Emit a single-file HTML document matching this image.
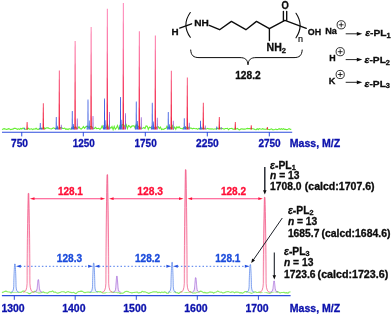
<!DOCTYPE html>
<html><head><meta charset="utf-8"><title>MS</title><style>html,body{margin:0;padding:0;background:#fff}</style></head><body>
<svg width="392" height="315" viewBox="0 0 392 315" style="display:block" font-family="'Liberation Sans', Arial, Helvetica, sans-serif" font-weight="bold">
<rect width="392" height="315" fill="#fff"/>
<defs><linearGradient id="pf" x1="0" y1="0" x2="0" y2="1"><stop offset="0" stop-color="#f888ae"/><stop offset="0.35" stop-color="#fcc4d6"/><stop offset="0.7" stop-color="#feeaf0"/><stop offset="1" stop-color="#ffffff"/></linearGradient><linearGradient id="rg" x1="0" y1="0" x2="0" y2="129" gradientUnits="userSpaceOnUse"><stop offset="0" stop-color="#ff5aa0"/><stop offset="0.4" stop-color="#fb4080"/><stop offset="0.7" stop-color="#f41844"/><stop offset="1" stop-color="#f00828"/></linearGradient></defs>
<polyline points="2.0,129.62 3.1,129.05 4.2,128.63 5.3,129.00 6.4,129.42 7.5,129.15 8.6,128.65 9.7,129.11 10.8,129.64 11.9,129.28 13.0,129.17 14.1,128.30 15.2,128.35 16.3,128.81 17.4,129.32 18.5,128.78 19.6,129.33 20.7,128.47 21.8,129.03 22.9,128.04 24.0,128.23 25.1,129.28 26.2,129.28 27.3,129.20 28.4,128.29 29.5,129.17 30.6,128.99 31.7,128.84 32.8,129.66 33.9,128.82 35.0,129.16 36.1,128.25 37.2,129.22 38.3,129.36 39.4,128.55 40.5,128.46 41.6,128.77 42.7,128.35 43.8,127.34 44.9,128.88 46.0,128.08 47.1,127.85 48.2,127.89 49.3,128.39 50.4,128.84 51.5,129.03 52.6,128.33 53.7,127.80 54.8,128.53 55.9,128.83 57.0,127.83 58.1,128.02 59.2,128.12 60.3,127.68 61.4,127.44 62.5,128.41 63.6,128.51 64.7,128.06 65.8,129.32 66.9,128.90 68.0,129.56 69.1,128.60 70.2,129.18 71.3,128.69 72.4,128.60 73.5,126.59 74.6,127.76 75.7,127.00 76.8,128.68 77.9,128.30 79.0,126.74 80.1,128.54 81.2,129.16 82.3,128.25 83.4,126.62 84.5,128.34 85.6,127.03 86.7,126.37 87.8,126.58 88.9,127.66 90.0,126.46 91.1,126.41 92.2,127.31 93.3,128.65 94.4,128.47 95.5,127.34 96.6,128.65 97.7,128.50 98.8,128.33 99.9,129.33 101.0,128.41 102.1,125.83 103.2,128.32 104.3,128.19 105.4,127.58 106.5,127.36 107.6,124.49 108.7,128.61 109.8,127.30 110.9,128.22 112.0,126.47 113.1,129.64 114.2,126.35 115.3,129.21 116.4,128.00 117.5,125.60 118.6,129.06 119.7,127.39 120.8,128.55 121.9,124.88 123.0,124.60 124.1,125.07 125.2,127.81 126.3,124.93 127.4,128.59 128.5,125.61 129.6,126.21 130.7,127.58 131.8,126.12 132.9,125.90 134.0,125.78 135.1,128.08 136.2,124.54 137.3,125.89 138.4,126.18 139.5,127.89 140.6,128.23 141.7,128.28 142.8,128.24 143.9,127.56 145.0,128.58 146.1,125.87 147.2,126.10 148.3,129.26 149.4,127.13 150.5,127.54 151.6,128.15 152.7,128.50 153.8,127.86 154.9,128.07 156.0,128.18 157.1,127.09 158.2,126.75 159.3,128.57 160.4,127.08 161.5,129.59 162.6,129.05 163.7,129.35 164.8,128.49 165.9,128.45 167.0,126.26 168.1,128.14 169.2,127.50 170.3,127.41 171.4,128.59 172.5,125.89 173.6,128.91 174.7,127.04 175.8,129.16 176.9,126.74 178.0,127.94 179.1,126.60 180.2,128.28 181.3,128.57 182.4,128.81 183.5,127.70 184.6,127.34 185.7,128.26 186.8,127.50 187.9,128.54 189.0,127.10 190.1,128.16 191.2,128.10 192.3,128.96 193.4,128.34 194.5,128.58 195.6,128.79 196.7,128.48 197.8,129.33 198.9,128.30 200.0,128.47 201.1,128.90 202.2,128.55 203.3,128.22 204.4,128.32 205.5,128.73 206.6,128.99 207.7,128.32 208.8,128.93 209.9,128.82 211.0,129.10 212.1,128.73 213.2,129.18 214.3,128.97 215.4,129.00 216.5,128.89 217.6,128.17 218.7,128.75 219.8,127.78 220.9,128.91 222.0,128.37 223.1,128.66 224.2,129.16 225.3,128.48 226.4,128.54 227.5,128.44 228.6,129.77 229.7,128.51 230.8,128.52 231.9,128.26 233.0,129.22 234.1,129.12 235.2,129.10 236.3,129.00 237.4,128.38 238.5,129.43 239.6,129.78 240.7,128.95 241.8,128.77 242.9,129.08 244.0,129.06 245.1,129.12 246.2,128.77 247.3,128.36 248.4,128.60 249.5,128.52 250.6,128.76 251.7,128.68 252.8,128.80 253.9,129.06 255.0,129.44 256.1,129.69 257.2,128.78 258.3,129.48 259.4,128.52 260.5,128.98 261.6,129.28 262.7,128.72 263.8,129.14 264.9,129.22 266.0,129.27 267.1,128.82 268.2,129.29 269.3,129.73 270.4,129.33 271.5,128.83 272.6,129.74 273.7,129.74 274.8,129.52 275.9,129.06 277.0,129.65 278.1,129.26 279.2,128.67 280.3,129.38 281.4,128.68 282.5,129.44 283.6,128.70 284.7,129.38 285.8,129.22 286.9,129.64 288.0,129.20 289.1,128.60 290.2,129.36 291.3,129.18" fill="none" stroke="#64ee30" stroke-width="1.1" stroke-linejoin="miter"/>
<path d="M23.73,129.50 L23.90,127.75 L24.70,127.75 L24.87,129.50 Z" fill="#3a5ce2"/>
<path d="M39.68,129.50 L39.85,123.00 L40.65,123.00 L40.82,129.50 Z" fill="#3a5ce2"/>
<path d="M40.95,129.50 L41.25,127.48 L41.85,127.48 L42.15,129.50 Z" fill="#3a5ce2"/>
<path d="M38.87,129.50 L39.11,128.50 L39.59,128.50 L39.83,129.50 Z" fill="#3a5ce2"/>
<path d="M42.33,129.50 L42.54,128.76 L42.96,128.76 L43.17,129.50 Z" fill="#3a5ce2"/>
<path d="M55.68,129.50 L55.85,117.00 L56.65,117.00 L56.82,129.50 Z" fill="#3a5ce2"/>
<path d="M56.95,129.50 L57.25,125.68 L57.85,125.68 L58.15,129.50 Z" fill="#3a5ce2"/>
<path d="M54.87,129.50 L55.11,127.66 L55.59,127.66 L55.83,129.50 Z" fill="#3a5ce2"/>
<path d="M58.33,129.50 L58.54,128.16 L58.96,128.16 L59.17,129.50 Z" fill="#3a5ce2"/>
<path d="M71.68,129.50 L71.85,111.00 L72.65,111.00 L72.82,129.50 Z" fill="#3a5ce2"/>
<path d="M72.95,129.50 L73.25,123.88 L73.85,123.88 L74.15,129.50 Z" fill="#3a5ce2"/>
<path d="M70.87,129.50 L71.11,126.82 L71.59,126.82 L71.83,129.50 Z" fill="#3a5ce2"/>
<path d="M74.33,129.50 L74.54,127.56 L74.96,127.56 L75.17,129.50 Z" fill="#3a5ce2"/>
<path d="M87.43,129.50 L87.60,99.50 L88.40,99.50 L88.57,129.50 Z" fill="#3a5ce2"/>
<path d="M88.70,129.50 L89.00,120.43 L89.60,120.43 L89.90,129.50 Z" fill="#3a5ce2"/>
<path d="M86.62,129.50 L86.86,125.21 L87.34,125.21 L87.58,129.50 Z" fill="#3a5ce2"/>
<path d="M90.08,129.50 L90.29,126.41 L90.71,126.41 L90.92,129.50 Z" fill="#3a5ce2"/>
<path d="M103.93,129.50 L104.10,98.50 L104.90,98.50 L105.07,129.50 Z" fill="#3a5ce2"/>
<path d="M105.20,129.50 L105.50,120.13 L106.10,120.13 L106.40,129.50 Z" fill="#3a5ce2"/>
<path d="M103.12,129.50 L103.36,125.07 L103.84,125.07 L104.08,129.50 Z" fill="#3a5ce2"/>
<path d="M106.58,129.50 L106.79,126.31 L107.21,126.31 L107.42,129.50 Z" fill="#3a5ce2"/>
<path d="M119.93,129.50 L120.10,97.00 L120.90,97.00 L121.07,129.50 Z" fill="#3a5ce2"/>
<path d="M121.20,129.50 L121.50,119.68 L122.10,119.68 L122.40,129.50 Z" fill="#3a5ce2"/>
<path d="M119.12,129.50 L119.36,124.86 L119.84,124.86 L120.08,129.50 Z" fill="#3a5ce2"/>
<path d="M122.58,129.50 L122.79,126.16 L123.21,126.16 L123.42,129.50 Z" fill="#3a5ce2"/>
<path d="M135.68,129.50 L135.85,101.50 L136.65,101.50 L136.82,129.50 Z" fill="#3a5ce2"/>
<path d="M136.95,129.50 L137.25,121.03 L137.85,121.03 L138.15,129.50 Z" fill="#3a5ce2"/>
<path d="M134.87,129.50 L135.11,125.49 L135.59,125.49 L135.83,129.50 Z" fill="#3a5ce2"/>
<path d="M138.33,129.50 L138.54,126.61 L138.96,126.61 L139.17,129.50 Z" fill="#3a5ce2"/>
<path d="M151.68,129.50 L151.85,102.75 L152.65,102.75 L152.82,129.50 Z" fill="#3a5ce2"/>
<path d="M152.95,129.50 L153.25,121.41 L153.85,121.41 L154.15,129.50 Z" fill="#3a5ce2"/>
<path d="M150.87,129.50 L151.11,125.67 L151.59,125.67 L151.83,129.50 Z" fill="#3a5ce2"/>
<path d="M154.33,129.50 L154.54,126.73 L154.96,126.73 L155.17,129.50 Z" fill="#3a5ce2"/>
<path d="M167.68,129.50 L167.85,112.00 L168.65,112.00 L168.82,129.50 Z" fill="#3a5ce2"/>
<path d="M168.95,129.50 L169.25,124.18 L169.85,124.18 L170.15,129.50 Z" fill="#3a5ce2"/>
<path d="M166.87,129.50 L167.11,126.96 L167.59,126.96 L167.83,129.50 Z" fill="#3a5ce2"/>
<path d="M170.33,129.50 L170.54,127.66 L170.96,127.66 L171.17,129.50 Z" fill="#3a5ce2"/>
<path d="M183.68,129.50 L183.85,118.25 L184.65,118.25 L184.82,129.50 Z" fill="#3a5ce2"/>
<path d="M184.95,129.50 L185.25,126.06 L185.85,126.06 L186.15,129.50 Z" fill="#3a5ce2"/>
<path d="M182.87,129.50 L183.11,127.84 L183.59,127.84 L183.83,129.50 Z" fill="#3a5ce2"/>
<path d="M186.33,129.50 L186.54,128.28 L186.96,128.28 L187.17,129.50 Z" fill="#3a5ce2"/>
<path d="M199.93,129.50 L200.10,120.75 L200.90,120.75 L201.07,129.50 Z" fill="#3a5ce2"/>
<path d="M201.20,129.50 L201.50,126.81 L202.10,126.81 L202.40,129.50 Z" fill="#3a5ce2"/>
<path d="M199.12,129.50 L199.36,128.19 L199.84,128.19 L200.08,129.50 Z" fill="#3a5ce2"/>
<path d="M202.58,129.50 L202.79,128.53 L203.21,128.53 L203.42,129.50 Z" fill="#3a5ce2"/>
<path d="M216.18,129.50 L216.35,126.50 L217.15,126.50 L217.32,129.50 Z" fill="#3a5ce2"/>
<path d="M60.68,129.50 L60.87,124.75 L61.63,124.75 L61.82,129.50 Z" fill="#9458d0"/>
<path d="M76.68,129.50 L76.87,118.50 L77.63,118.50 L77.82,129.50 Z" fill="#9458d0"/>
<path d="M92.43,129.50 L92.62,116.00 L93.38,116.00 L93.57,129.50 Z" fill="#9458d0"/>
<path d="M108.93,129.50 L109.12,112.00 L109.88,112.00 L110.07,129.50 Z" fill="#9458d0"/>
<path d="M124.93,129.50 L125.12,113.25 L125.88,113.25 L126.07,129.50 Z" fill="#9458d0"/>
<path d="M140.68,129.50 L140.87,117.25 L141.63,117.25 L141.82,129.50 Z" fill="#9458d0"/>
<path d="M156.68,129.50 L156.87,117.75 L157.63,117.75 L157.82,129.50 Z" fill="#9458d0"/>
<path d="M172.68,129.50 L172.87,120.75 L173.63,120.75 L173.82,129.50 Z" fill="#9458d0"/>
<path d="M188.68,129.50 L188.87,122.75 L189.63,122.75 L189.82,129.50 Z" fill="#9458d0"/>
<path d="M204.68,129.50 L204.87,125.50 L205.63,125.50 L205.82,129.50 Z" fill="#9458d0"/>
<path d="M220.68,129.50 L220.87,127.00 L221.63,127.00 L221.82,129.50 Z" fill="#9458d0"/>
<path d="M26.44,129.50 L26.74,122.00 L27.46,122.00 L27.76,129.50 Z" fill="url(#rg)"/>
<path d="M42.59,129.50 L42.89,103.25 L43.61,103.25 L43.91,129.50 Z" fill="url(#rg)"/>
<path d="M44.19,129.50 L44.37,128.48 L44.73,128.48 L44.91,129.50 Z" fill="#f41c44"/>
<path d="M58.59,129.50 L58.89,70.50 L59.61,70.50 L59.91,129.50 Z" fill="url(#rg)"/>
<path d="M60.19,129.50 L60.37,127.34 L60.73,127.34 L60.91,129.50 Z" fill="#f41c44"/>
<path d="M74.44,129.50 L74.74,41.00 L75.46,41.00 L75.76,129.50 Z" fill="url(#rg)"/>
<path d="M76.04,129.50 L76.22,126.40 L76.58,126.40 L76.76,129.50 Z" fill="#f41c44"/>
<path d="M90.44,129.50 L90.74,27.00 L91.46,27.00 L91.76,129.50 Z" fill="url(#rg)"/>
<path d="M92.04,129.50 L92.22,126.40 L92.58,126.40 L92.76,129.50 Z" fill="#f41c44"/>
<path d="M106.59,129.50 L106.89,8.75 L107.61,8.75 L107.91,129.50 Z" fill="url(#rg)"/>
<path d="M108.19,129.50 L108.37,126.40 L108.73,126.40 L108.91,129.50 Z" fill="#f41c44"/>
<path d="M122.59,129.50 L122.89,3.00 L123.61,3.00 L123.91,129.50 Z" fill="url(#rg)"/>
<path d="M124.19,129.50 L124.37,126.40 L124.73,126.40 L124.91,129.50 Z" fill="#f41c44"/>
<path d="M138.59,129.50 L138.89,31.25 L139.61,31.25 L139.91,129.50 Z" fill="url(#rg)"/>
<path d="M140.19,129.50 L140.37,126.40 L140.73,126.40 L140.91,129.50 Z" fill="#f41c44"/>
<path d="M154.59,129.50 L154.89,35.50 L155.61,35.50 L155.91,129.50 Z" fill="url(#rg)"/>
<path d="M156.19,129.50 L156.37,126.40 L156.73,126.40 L156.91,129.50 Z" fill="#f41c44"/>
<path d="M170.59,129.50 L170.89,70.75 L171.61,70.75 L171.91,129.50 Z" fill="url(#rg)"/>
<path d="M172.19,129.50 L172.37,127.35 L172.73,127.35 L172.91,129.50 Z" fill="#f41c44"/>
<path d="M186.59,129.50 L186.89,77.50 L187.61,77.50 L187.91,129.50 Z" fill="url(#rg)"/>
<path d="M188.19,129.50 L188.37,127.58 L188.73,127.58 L188.91,129.50 Z" fill="#f41c44"/>
<path d="M202.59,129.50 L202.89,102.75 L203.61,102.75 L203.91,129.50 Z" fill="url(#rg)"/>
<path d="M204.19,129.50 L204.37,128.47 L204.73,128.47 L204.91,129.50 Z" fill="#f41c44"/>
<path d="M218.59,129.50 L218.89,117.00 L219.61,117.00 L219.91,129.50 Z" fill="url(#rg)"/>
<path d="M234.59,129.50 L234.89,122.00 L235.61,122.00 L235.91,129.50 Z" fill="url(#rg)"/>
<path d="M250.54,129.50 L250.84,125.25 L251.56,125.25 L251.86,129.50 Z" fill="url(#rg)"/>
<path d="M266.64,129.50 L266.94,127.00 L267.66,127.00 L267.96,129.50 Z" fill="url(#rg)"/>
<line x1="2" y1="132.3" x2="292.2" y2="132.3" stroke="#2e4cde" stroke-width="1.05"/>
<line x1="21.75" y1="132" x2="21.75" y2="136.4" stroke="#2e4cde" stroke-width="1"/>
<text x="11.0" y="147.4" font-size="10.5" fill="#0c12ac" stroke="#0c12ac" stroke-width="0.3" textLength="17.0" lengthAdjust="spacingAndGlyphs">750</text>
<line x1="83.3" y1="132" x2="83.3" y2="136.4" stroke="#2e4cde" stroke-width="1"/>
<text x="72.75" y="147.4" font-size="10.5" fill="#0c12ac" stroke="#0c12ac" stroke-width="0.3" textLength="22.0" lengthAdjust="spacingAndGlyphs">1250</text>
<line x1="145.3" y1="132" x2="145.3" y2="136.4" stroke="#2e4cde" stroke-width="1"/>
<text x="134.5" y="147.4" font-size="10.5" fill="#0c12ac" stroke="#0c12ac" stroke-width="0.3" textLength="22.2" lengthAdjust="spacingAndGlyphs">1750</text>
<line x1="207.3" y1="132" x2="207.3" y2="136.4" stroke="#2e4cde" stroke-width="1"/>
<text x="196.1" y="147.4" font-size="10.5" fill="#0c12ac" stroke="#0c12ac" stroke-width="0.3" textLength="22.7" lengthAdjust="spacingAndGlyphs">2250</text>
<line x1="269.3" y1="132" x2="269.3" y2="136.4" stroke="#2e4cde" stroke-width="1"/>
<text x="258.4" y="147.4" font-size="10.5" fill="#0c12ac" stroke="#0c12ac" stroke-width="0.3" textLength="22.3" lengthAdjust="spacingAndGlyphs">2750</text>
<text x="289.8" y="147.2" font-size="10.5" fill="#0c12ac" stroke="#0c12ac" stroke-width="0.3" textLength="50.4" lengthAdjust="spacingAndGlyphs">Mass, M/Z</text>
<g stroke="#0c0c0c" stroke-width="1.35" fill="none" stroke-linecap="round" stroke-linejoin="round">
<path d="M179.7,28.1 L191.6,23.8"/>
<path d="M190.3,12.5 Q181.5,25 190.3,37.3" stroke-width="1.1"/>
<path d="M209.3,25.4 L219.6,29.7 L231.4,21.4 L245.9,29.7 L256.5,21.4 L269.4,28.7 L284.9,20.4 L306.3,28.3"/>
<path d="M269.4,28.7 L269.4,40.6"/>
<path d="M283.4,20.6 L283.4,11.3 M286.7,20.2 L286.7,11.3"/>
<path d="M296,13.3 Q304.3,25.5 296,37.8" stroke-width="1.1"/>
<path d="M190.7,50 C191,55.5 193.5,57.6 199,57.6 L240,57.6 C245,57.6 247.6,59.5 248,64.8 C248.4,59.5 251,57.6 256,57.6 L294,57.6 C299.5,57.6 301.8,55.5 302.2,50" stroke-width="1"/>
</g>
<text x="171.6" y="34.8" font-size="9.5" fill="#0c0c0c" stroke="#0c0c0c" stroke-width="0.3" textLength="7.1" lengthAdjust="spacingAndGlyphs">H</text>
<text x="194.3" y="25.9" font-size="9.7" fill="#0c0c0c" stroke="#0c0c0c" stroke-width="0.3" textLength="14.6" lengthAdjust="spacingAndGlyphs">NH</text>
<text x="281.5" y="9.4" font-size="10.1" fill="#0c0c0c" stroke="#0c0c0c" stroke-width="0.3" textLength="7.3" lengthAdjust="spacingAndGlyphs">O</text>
<text x="266.6" y="51.2" font-size="10.2" fill="#0c0c0c" stroke="#0c0c0c" stroke-width="0.3" textLength="19.4" lengthAdjust="spacingAndGlyphs">NH<tspan font-size="7.3" dy="1.8">2</tspan></text>
<text x="297.9" y="41.9" font-size="9" fill="#0c0c0c" stroke="#0c0c0c" stroke-width="0.2" font-weight="normal">n</text>
<text x="307.7" y="34.9" font-size="9.8" fill="#0c0c0c" stroke="#0c0c0c" stroke-width="0.3" textLength="13.4" lengthAdjust="spacingAndGlyphs">OH</text>
<text x="235.2" y="78.9" font-size="10.0" fill="#0c0c0c" stroke="#0c0c0c" stroke-width="0.3" textLength="25.5" lengthAdjust="spacingAndGlyphs">128.2</text>
<text x="325.2" y="34.4" font-size="9.8" fill="#0c0c0c" stroke="#0c0c0c" stroke-width="0.3" textLength="11.7" lengthAdjust="spacingAndGlyphs">Na</text>
<text x="329.2" y="61.4" font-size="9.8" fill="#0c0c0c" stroke="#0c0c0c" stroke-width="0.3" textLength="6.4" lengthAdjust="spacingAndGlyphs">H</text>
<text x="328.8" y="84.1" font-size="9.8" fill="#0c0c0c" stroke="#0c0c0c" stroke-width="0.3" textLength="6.6" lengthAdjust="spacingAndGlyphs">K</text>
<g stroke="#0c0c0c" stroke-width="0.85" fill="none"><circle cx="341.2" cy="24.8" r="4.1"/><path d="M338.8,24.8 H343.59999999999997 M341.2,22.400000000000002 V27.2"/></g>
<g stroke="#0c0c0c" stroke-width="0.85" fill="none"><circle cx="340.2" cy="51.7" r="4.1"/><path d="M337.8,51.7 H342.59999999999997 M340.2,49.300000000000004 V54.1"/></g>
<g stroke="#0c0c0c" stroke-width="0.85" fill="none"><circle cx="340.2" cy="74.5" r="4.1"/><path d="M337.8,74.5 H342.59999999999997 M340.2,72.1 V76.9"/></g>
<line x1="345.7" y1="33.8" x2="358" y2="33.8" stroke="#0c0c0c" stroke-width="0.9"/>
<path d="M362.3,33.8 L356.8,31.9 L356.8,35.699999999999996 Z" fill="#0c0c0c"/>
<line x1="345.7" y1="59.6" x2="358" y2="59.6" stroke="#0c0c0c" stroke-width="0.9"/>
<path d="M362.3,59.6 L356.8,57.7 L356.8,61.5 Z" fill="#0c0c0c"/>
<line x1="345.7" y1="82.3" x2="358" y2="82.3" stroke="#0c0c0c" stroke-width="0.9"/>
<path d="M362.3,82.3 L356.8,80.39999999999999 L356.8,84.2 Z" fill="#0c0c0c"/>
<text x="365.2" y="36.1" font-size="9.9" fill="#0c0c0c" stroke="#0c0c0c" stroke-width="0.3" textLength="25.4" lengthAdjust="spacingAndGlyphs"><tspan font-style="italic">ε</tspan>-PL<tspan font-size="7.2" dy="1.6">1</tspan></text>
<text x="364.6" y="62.9" font-size="9.9" fill="#0c0c0c" stroke="#0c0c0c" stroke-width="0.3" textLength="25.4" lengthAdjust="spacingAndGlyphs"><tspan font-style="italic">ε</tspan>-PL<tspan font-size="7.2" dy="1.6">2</tspan></text>
<text x="364.6" y="86.6" font-size="9.9" fill="#0c0c0c" stroke="#0c0c0c" stroke-width="0.3" textLength="25.4" lengthAdjust="spacingAndGlyphs"><tspan font-style="italic">ε</tspan>-PL<tspan font-size="7.2" dy="1.6">3</tspan></text>
<polyline points="1.9,292.61 3.2,292.15 4.5,291.44 5.8,291.13 7.1,291.62 8.4,291.96 9.7,292.01 11.0,293.03 12.3,292.31 13.6,292.08 14.9,292.19 16.2,292.19 17.5,292.25 18.8,292.22 20.1,292.31 21.4,292.26 22.7,291.12 24.0,291.13 25.3,291.63 26.6,292.19 27.9,292.84 29.2,293.80 30.5,293.21 31.8,292.01 33.1,292.26 34.4,291.41 35.7,291.24 37.0,292.49 38.3,292.81 39.6,292.90 40.9,292.79 42.2,292.24 43.5,291.90 44.8,292.71 46.1,292.75 47.4,293.29 48.7,292.33 50.0,291.51 51.3,291.73 52.6,290.92 53.9,292.24 55.2,291.94 56.5,292.73 57.8,293.14 59.1,292.68 60.4,292.33 61.7,291.72 63.0,291.73 64.3,291.86 65.6,292.70 66.9,292.00 68.2,291.47 69.5,292.20 70.8,292.40 72.1,292.74 73.4,292.32 74.7,292.97 76.0,293.71 77.3,292.38 78.6,291.59 79.9,291.36 81.2,291.10 82.5,291.36 83.8,292.38 85.1,292.65 86.4,292.28 87.7,291.97 89.0,292.17 90.3,292.48 91.6,292.16 92.9,292.28 94.2,292.26 95.5,292.04 96.8,291.60 98.1,291.69 99.4,291.82 100.7,291.69 102.0,292.64 103.3,292.98 104.6,292.87 105.9,292.59 107.2,291.92 108.5,291.81 109.8,292.31 111.1,291.67 112.4,292.25 113.7,292.42 115.0,292.12 116.3,292.20 117.6,292.76 118.9,292.52 120.2,293.59 121.5,292.97 122.8,293.27 124.1,292.46 125.4,291.51 126.7,291.44 128.0,291.60 129.3,292.29 130.6,292.54 131.9,292.82 133.2,292.50 134.5,292.44 135.8,292.20 137.1,292.00 138.4,292.95 139.7,292.66 141.0,292.53 142.3,291.27 143.6,291.90 144.9,291.78 146.2,292.34 147.5,292.72 148.8,293.48 150.1,292.66 151.4,292.47 152.7,291.91 154.0,291.70 155.3,291.86 156.6,291.70 157.9,292.67 159.2,292.16 160.5,292.69 161.8,291.97 163.1,292.55 164.4,291.92 165.7,292.30 167.0,293.30 168.3,293.19 169.6,291.73 170.9,292.12 172.2,291.01 173.5,291.81 174.8,291.65 176.1,292.74 177.4,292.69 178.7,293.44 180.0,292.38 181.3,291.72 182.6,291.80 183.9,291.65 185.2,292.16 186.5,292.42 187.8,292.28 189.1,292.09 190.4,291.66 191.7,292.42 193.0,293.05 194.3,292.70 195.6,292.96 196.9,292.35 198.2,292.09 199.5,291.54 200.8,291.15 202.1,291.70 203.4,292.65 204.7,292.39 206.0,292.89 207.3,292.85 208.6,292.60 209.9,291.93 211.2,292.19 212.5,292.32 213.8,293.14 215.1,292.26 216.4,291.95 217.7,291.08 219.0,291.77 220.3,292.24 221.6,292.19 222.9,292.94 224.2,292.63 225.5,292.17 226.8,291.80 228.1,291.48 229.4,292.05 230.7,292.50 232.0,291.88 233.3,292.03 234.6,292.80 235.9,292.06 237.2,291.99 238.5,292.30 239.8,292.90 241.1,292.64 242.4,293.27 243.7,292.58 245.0,291.53 246.3,291.69 247.6,291.93 248.9,292.44 250.2,292.66 251.5,293.31 252.8,292.76 254.1,292.11 255.4,291.80 256.7,292.55 258.0,292.40 259.3,292.15 260.6,292.63 261.9,292.40 263.2,291.32 264.5,291.85 265.8,292.13 267.1,292.60 268.4,292.96 269.7,293.32 271.0,292.79 272.3,292.28 273.6,292.02 274.9,291.44 276.2,292.13 277.5,291.61 278.8,292.30 280.1,293.06 281.4,292.53 282.7,292.51 284.0,292.35 285.3,292.93 286.6,292.62 287.9,293.21 289.2,291.98 290.5,291.93" fill="none" stroke="#8cee66" stroke-width="1.15" stroke-linejoin="round"/>
<path d="M10.95,292.30 Q13.45,292.30 13.75,286.30 L13.77,284.44 L13.80,282.58 L13.84,280.73 L13.90,278.87 L13.96,277.01 L14.03,275.15 L14.11,273.29 L14.19,271.43 L14.29,269.57 L14.38,267.72 L14.49,265.86 L14.60,264.00 L15.20,264.00 L15.31,265.86 L15.42,267.72 L15.51,269.57 L15.61,271.43 L15.69,273.29 L15.77,275.15 L15.84,277.01 L15.90,278.87 L15.96,280.73 L16.00,282.58 L16.03,284.44 L16.05,286.30 Q16.35,292.30 18.85,292.30" fill="#eef4fe" stroke="#5a86ea" stroke-width="0.75" stroke-linejoin="round"/>
<path d="M89.75,292.30 Q92.25,292.30 92.55,286.30 L92.57,284.38 L92.60,282.45 L92.64,280.52 L92.70,278.60 L92.76,276.68 L92.83,274.75 L92.91,272.82 L92.99,270.90 L93.09,268.98 L93.18,267.05 L93.29,265.12 L93.40,263.20 L94.00,263.20 L94.11,265.12 L94.22,267.05 L94.31,268.98 L94.41,270.90 L94.49,272.82 L94.57,274.75 L94.64,276.68 L94.70,278.60 L94.76,280.52 L94.80,282.45 L94.83,284.38 L94.85,286.30 Q95.15,292.30 97.65,292.30" fill="#eef4fe" stroke="#5a86ea" stroke-width="0.75" stroke-linejoin="round"/>
<path d="M168.15,292.30 Q170.65,292.30 170.95,286.30 L170.97,284.31 L171.00,282.32 L171.04,280.32 L171.10,278.33 L171.16,276.34 L171.23,274.35 L171.31,272.36 L171.39,270.37 L171.49,268.38 L171.58,266.38 L171.69,264.39 L171.80,262.40 L172.40,262.40 L172.51,264.39 L172.62,266.38 L172.71,268.38 L172.81,270.37 L172.89,272.36 L172.97,274.35 L173.04,276.34 L173.10,278.33 L173.16,280.32 L173.20,282.32 L173.23,284.31 L173.25,286.30 Q173.55,292.30 176.05,292.30" fill="#eef4fe" stroke="#5a86ea" stroke-width="0.75" stroke-linejoin="round"/>
<path d="M246.35,292.30 Q248.85,292.30 249.15,286.30 L249.17,284.50 L249.20,282.70 L249.24,280.90 L249.30,279.10 L249.36,277.30 L249.43,275.50 L249.51,273.70 L249.59,271.90 L249.69,270.10 L249.78,268.30 L249.89,266.50 L250.00,264.70 L250.60,264.70 L250.71,266.50 L250.82,268.30 L250.91,270.10 L251.01,271.90 L251.09,273.70 L251.17,275.50 L251.24,277.30 L251.30,279.10 L251.36,280.90 L251.40,282.70 L251.43,284.50 L251.45,286.30 Q251.75,292.30 254.25,292.30" fill="#eef4fe" stroke="#5a86ea" stroke-width="0.75" stroke-linejoin="round"/>
<path d="M34.35,292.30 Q36.85,292.30 37.15,288.54 L37.22,287.80 L37.29,287.07 L37.36,286.34 L37.43,285.61 L37.50,284.87 L37.57,284.14 L37.65,283.41 L37.72,282.68 L37.79,281.95 L37.86,281.21 L37.93,280.48 L38.00,279.75 L38.60,279.75 L38.67,280.48 L38.74,281.21 L38.81,281.95 L38.88,282.68 L38.95,283.41 L39.02,284.14 L39.10,284.87 L39.17,285.61 L39.24,286.34 L39.31,287.07 L39.38,287.80 L39.45,288.54 Q39.75,292.30 42.25,292.30" fill="#f3e8fa" stroke="#a468d8" stroke-width="0.75" stroke-linejoin="round"/>
<path d="M112.95,292.30 Q115.45,292.30 115.75,287.80 L115.82,286.84 L115.89,285.88 L115.96,284.93 L116.03,283.97 L116.10,283.01 L116.18,282.05 L116.25,281.09 L116.32,280.13 L116.39,279.18 L116.46,278.22 L116.53,277.26 L116.60,276.30 L117.20,276.30 L117.27,277.26 L117.34,278.22 L117.41,279.18 L117.48,280.13 L117.55,281.09 L117.62,282.05 L117.70,283.01 L117.77,283.97 L117.84,284.93 L117.91,285.88 L117.98,286.84 L118.05,287.80 Q118.35,292.30 120.85,292.30" fill="#f3e8fa" stroke="#a468d8" stroke-width="0.75" stroke-linejoin="round"/>
<path d="M191.75,292.30 Q194.25,292.30 194.55,287.95 L194.62,287.10 L194.69,286.26 L194.76,285.41 L194.83,284.57 L194.90,283.72 L194.97,282.88 L195.05,282.03 L195.12,281.18 L195.19,280.34 L195.26,279.49 L195.33,278.65 L195.40,277.80 L196.00,277.80 L196.07,278.65 L196.14,279.49 L196.21,280.34 L196.28,281.18 L196.35,282.03 L196.42,282.88 L196.50,283.72 L196.57,284.57 L196.64,285.41 L196.71,286.26 L196.78,287.10 L196.85,287.95 Q197.15,292.30 199.65,292.30" fill="#f3e8fa" stroke="#a468d8" stroke-width="0.75" stroke-linejoin="round"/>
<path d="M270.15,292.30 Q272.65,292.30 272.95,288.91 L273.02,288.25 L273.09,287.59 L273.16,286.93 L273.23,286.27 L273.30,285.61 L273.38,284.96 L273.45,284.30 L273.52,283.64 L273.59,282.98 L273.66,282.32 L273.73,281.66 L273.80,281.00 L274.40,281.00 L274.47,281.66 L274.54,282.32 L274.61,282.98 L274.68,283.64 L274.75,284.30 L274.83,284.96 L274.90,285.61 L274.97,286.27 L275.04,286.93 L275.11,287.59 L275.18,288.25 L275.25,288.91 Q275.55,292.30 278.05,292.30" fill="#f3e8fa" stroke="#a468d8" stroke-width="0.75" stroke-linejoin="round"/>
<path d="M23.30,292.30 Q26.80,292.30 27.10,283.30 L27.11,275.81 L27.14,268.32 L27.18,260.82 L27.24,253.33 L27.31,245.84 L27.39,238.35 L27.50,230.86 L27.61,223.37 L27.74,215.88 L27.88,208.38 L28.03,200.89 L28.20,193.40 L28.80,193.40 L28.97,200.89 L29.12,208.38 L29.26,215.88 L29.39,223.37 L29.50,230.86 L29.61,238.35 L29.69,245.84 L29.76,253.33 L29.82,260.82 L29.86,268.32 L29.89,275.81 L29.90,283.30 Q30.20,292.30 33.70,292.30" fill="url(#pf)" stroke="#f25684" stroke-width="0.75" stroke-linejoin="round"/>
<path d="M102.10,292.30 Q105.60,292.30 105.90,283.30 L105.91,274.25 L105.94,265.20 L105.98,256.15 L106.04,247.10 L106.11,238.05 L106.19,229.00 L106.30,219.95 L106.41,210.90 L106.54,201.85 L106.68,192.80 L106.83,183.75 L107.00,174.70 L107.60,174.70 L107.77,183.75 L107.92,192.80 L108.06,201.85 L108.19,210.90 L108.30,219.95 L108.41,229.00 L108.49,238.05 L108.56,247.10 L108.62,256.15 L108.66,265.20 L108.69,274.25 L108.70,283.30 Q109.00,292.30 112.50,292.30" fill="url(#pf)" stroke="#f25684" stroke-width="0.75" stroke-linejoin="round"/>
<path d="M180.50,292.30 Q184.00,292.30 184.30,283.30 L184.31,273.83 L184.34,264.37 L184.38,254.90 L184.44,245.43 L184.51,235.97 L184.59,226.50 L184.70,217.03 L184.81,207.57 L184.94,198.10 L185.08,188.63 L185.23,179.17 L185.40,169.70 L186.00,169.70 L186.17,179.17 L186.32,188.63 L186.46,198.10 L186.59,207.57 L186.70,217.03 L186.81,226.50 L186.89,235.97 L186.96,245.43 L187.02,254.90 L187.06,264.37 L187.09,273.83 L187.10,283.30 Q187.40,292.30 190.90,292.30" fill="url(#pf)" stroke="#f25684" stroke-width="0.75" stroke-linejoin="round"/>
<path d="M259.50,292.30 Q263.00,292.30 263.30,283.30 L263.31,276.13 L263.34,268.97 L263.38,261.80 L263.44,254.63 L263.51,247.47 L263.59,240.30 L263.70,233.13 L263.81,225.97 L263.94,218.80 L264.08,211.63 L264.23,204.47 L264.40,197.30 L265.00,197.30 L265.17,204.47 L265.32,211.63 L265.46,218.80 L265.59,225.97 L265.70,233.13 L265.81,240.30 L265.89,247.47 L265.96,254.63 L266.02,261.80 L266.06,268.97 L266.09,276.13 L266.10,283.30 Q266.40,292.30 269.90,292.30" fill="url(#pf)" stroke="#f25684" stroke-width="0.75" stroke-linejoin="round"/>
<line x1="1.9" y1="295.55" x2="290.6" y2="295.55" stroke="#2e4cde" stroke-width="1.15"/>
<line x1="14.3" y1="295.8" x2="14.3" y2="299.8" stroke="#2e4cde" stroke-width="1"/>
<text x="1.4" y="311.6" font-size="10.5" fill="#0c12ac" stroke="#0c12ac" stroke-width="0.3" textLength="23.3" lengthAdjust="spacingAndGlyphs">1300</text>
<line x1="75.2" y1="295.8" x2="75.2" y2="299.8" stroke="#2e4cde" stroke-width="1"/>
<text x="62.2" y="311.6" font-size="10.5" fill="#0c12ac" stroke="#0c12ac" stroke-width="0.3" textLength="23.3" lengthAdjust="spacingAndGlyphs">1400</text>
<line x1="136.3" y1="295.8" x2="136.3" y2="299.8" stroke="#2e4cde" stroke-width="1"/>
<text x="123.3" y="311.6" font-size="10.5" fill="#0c12ac" stroke="#0c12ac" stroke-width="0.3" textLength="23.3" lengthAdjust="spacingAndGlyphs">1500</text>
<line x1="197.3" y1="295.8" x2="197.3" y2="299.8" stroke="#2e4cde" stroke-width="1"/>
<text x="184.3" y="311.6" font-size="10.5" fill="#0c12ac" stroke="#0c12ac" stroke-width="0.3" textLength="23.3" lengthAdjust="spacingAndGlyphs">1600</text>
<line x1="258.4" y1="295.8" x2="258.4" y2="299.8" stroke="#2e4cde" stroke-width="1"/>
<text x="245.4" y="311.6" font-size="10.5" fill="#0c12ac" stroke="#0c12ac" stroke-width="0.3" textLength="23.3" lengthAdjust="spacingAndGlyphs">1700</text>
<text x="289.8" y="311.6" font-size="10.5" fill="#0c12ac" stroke="#0c12ac" stroke-width="0.3" textLength="50.4" lengthAdjust="spacingAndGlyphs">Mass, M/Z</text>
<line x1="34.0" y1="198.65" x2="101.10000000000001" y2="198.65" stroke="#ff4482" stroke-width="1.05"/>
<path d="M29.9,198.65 L34.5,197.3 L34.5,200.0 Z" fill="#ff1038"/>
<path d="M105.2,198.65 L100.60000000000001,197.3 L100.60000000000001,200.0 Z" fill="#ff1038"/>
<line x1="113.1" y1="198.65" x2="179.5" y2="198.65" stroke="#ff4482" stroke-width="1.05"/>
<path d="M109.0,198.65 L113.6,197.3 L113.6,200.0 Z" fill="#ff1038"/>
<path d="M183.6,198.65 L179.0,197.3 L179.0,200.0 Z" fill="#ff1038"/>
<line x1="191.6" y1="198.65" x2="258.79999999999995" y2="198.65" stroke="#ff4482" stroke-width="1.05"/>
<path d="M187.5,198.65 L192.1,197.3 L192.1,200.0 Z" fill="#ff1038"/>
<path d="M262.9,198.65 L258.29999999999995,197.3 L258.29999999999995,200.0 Z" fill="#ff1038"/>
<text x="57.9" y="194.9" font-size="10.2" fill="#ff1038" stroke="#ff1038" stroke-width="0.3" textLength="25" lengthAdjust="spacingAndGlyphs">128.1</text>
<text x="137.2" y="194.9" font-size="10.2" fill="#ff1038" stroke="#ff1038" stroke-width="0.3" textLength="25.8" lengthAdjust="spacingAndGlyphs">128.3</text>
<text x="220.9" y="194.9" font-size="10.2" fill="#ff1038" stroke="#ff1038" stroke-width="0.3" textLength="25.2" lengthAdjust="spacingAndGlyphs">128.2</text>
<line x1="20.3" y1="266.3" x2="88.60000000000001" y2="266.3" stroke="#4a78ec" stroke-width="1" stroke-dasharray="1.5 2.1"/>
<path d="M16.0,266.3 L20.8,264.8 L20.8,267.8 Z" fill="#2450e0"/>
<path d="M92.9,266.3 L88.10000000000001,264.8 L88.10000000000001,267.8 Z" fill="#2450e0"/>
<line x1="98.89999999999999" y1="266.3" x2="166.89999999999998" y2="266.3" stroke="#4a78ec" stroke-width="1" stroke-dasharray="1.5 2.1"/>
<path d="M94.6,266.3 L99.39999999999999,264.8 L99.39999999999999,267.8 Z" fill="#2450e0"/>
<path d="M171.2,266.3 L166.39999999999998,264.8 L166.39999999999998,267.8 Z" fill="#2450e0"/>
<line x1="177.3" y1="266.3" x2="245.29999999999998" y2="266.3" stroke="#4a78ec" stroke-width="1" stroke-dasharray="1.5 2.1"/>
<path d="M173.0,266.3 L177.8,264.8 L177.8,267.8 Z" fill="#2450e0"/>
<path d="M249.6,266.3 L244.79999999999998,264.8 L244.79999999999998,267.8 Z" fill="#2450e0"/>
<text x="56.8" y="262.2" font-size="10.2" fill="#1c4cdc" stroke="#1c4cdc" stroke-width="0.3" textLength="25.3" lengthAdjust="spacingAndGlyphs">128.3</text>
<text x="135.0" y="262.2" font-size="10.2" fill="#1c4cdc" stroke="#1c4cdc" stroke-width="0.3" textLength="25.2" lengthAdjust="spacingAndGlyphs">128.2</text>
<text x="215.2" y="262.2" font-size="10.2" fill="#1c4cdc" stroke="#1c4cdc" stroke-width="0.3" textLength="25.2" lengthAdjust="spacingAndGlyphs">128.1</text>
<line x1="264.8" y1="166.9" x2="264.80" y2="191.20" stroke="#1c2028" stroke-width="1.4"/>
<path d="M264.8,194.4 L263.05,190.20 L266.55,190.20 Z" fill="#0c0c0c"/>
<line x1="282.3" y1="218" x2="253.02" y2="260.37" stroke="#1c2028" stroke-width="1.0"/>
<path d="M251.2,263 L252.15,258.55 L255.03,260.54 Z" fill="#0c0c0c"/>
<line x1="274.3" y1="252.5" x2="274.30" y2="276.30" stroke="#1c2028" stroke-width="1.1"/>
<path d="M274.3,279.5 L272.55,275.30 L276.05,275.30 Z" fill="#0c0c0c"/>
<text x="270.1" y="168.5" font-size="10.2" fill="#0c0c0c" stroke="#0c0c0c" stroke-width="0.3" textLength="25.6" lengthAdjust="spacingAndGlyphs"><tspan font-style="italic">ε</tspan>-PL<tspan font-size="7.2" dy="1.2">1</tspan></text>
<text x="270.1" y="179.0" font-size="10.1" fill="#0c0c0c" stroke="#0c0c0c" stroke-width="0.3" textLength="29.4" lengthAdjust="spacingAndGlyphs"><tspan font-style="italic">n</tspan> = 13</text>
<text x="270.1" y="190.4" font-size="10.2" fill="#0c0c0c" stroke="#0c0c0c" stroke-width="0.3" textLength="31.5" lengthAdjust="spacingAndGlyphs">1708.0</text>
<text x="304.8" y="190.4" font-size="10.2" fill="#0c0c0c" stroke="#0c0c0c" stroke-width="0.3" textLength="69.8" lengthAdjust="spacingAndGlyphs">(calcd:1707.6)</text>
<text x="287.9" y="213.8" font-size="10.2" fill="#0c0c0c" stroke="#0c0c0c" stroke-width="0.3" textLength="25.6" lengthAdjust="spacingAndGlyphs"><tspan font-style="italic">ε</tspan>-PL<tspan font-size="7.2" dy="1.2">2</tspan></text>
<text x="287.9" y="224.9" font-size="10.1" fill="#0c0c0c" stroke="#0c0c0c" stroke-width="0.3" textLength="29.4" lengthAdjust="spacingAndGlyphs"><tspan font-style="italic">n</tspan> = 13</text>
<text x="287.9" y="236.7" font-size="10.2" fill="#0c0c0c" stroke="#0c0c0c" stroke-width="0.3" textLength="31.5" lengthAdjust="spacingAndGlyphs">1685.7</text>
<text x="321.5" y="236.7" font-size="10.2" fill="#0c0c0c" stroke="#0c0c0c" stroke-width="0.3" textLength="68.9" lengthAdjust="spacingAndGlyphs">(calcd:1684.6)</text>
<text x="284.0" y="254.9" font-size="10.2" fill="#0c0c0c" stroke="#0c0c0c" stroke-width="0.3" textLength="25.6" lengthAdjust="spacingAndGlyphs"><tspan font-style="italic">ε</tspan>-PL<tspan font-size="7.2" dy="1.2">3</tspan></text>
<text x="284.0" y="266.0" font-size="10.1" fill="#0c0c0c" stroke="#0c0c0c" stroke-width="0.3" textLength="29.4" lengthAdjust="spacingAndGlyphs"><tspan font-style="italic">n</tspan> = 13</text>
<text x="284.0" y="278.0" font-size="10.2" fill="#0c0c0c" stroke="#0c0c0c" stroke-width="0.3" textLength="31.5" lengthAdjust="spacingAndGlyphs">1723.6</text>
<text x="317.6" y="278.0" font-size="10.2" fill="#0c0c0c" stroke="#0c0c0c" stroke-width="0.3" textLength="70.6" lengthAdjust="spacingAndGlyphs">(calcd:1723.6)</text>
</svg>
</body></html>
